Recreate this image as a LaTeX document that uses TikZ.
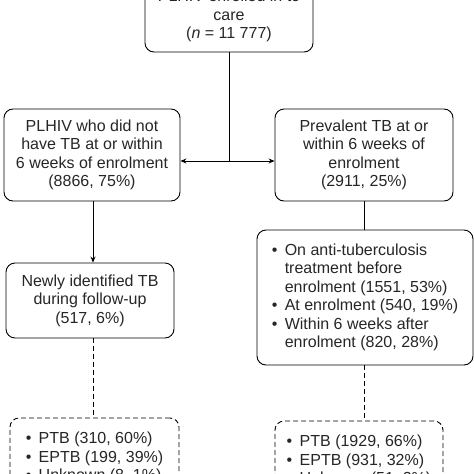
\documentclass[tikz,border=0pt]{standalone}
\usepackage{fontspec}
\setmainfont{Liberation Sans}
\usetikzlibrary{arrows.meta}
\tikzset{
  box/.style={draw=black, line width=0.9pt, rounded corners=9pt, inner sep=0pt,
    font=\fontsize{16}{18.5}\selectfont, text=black!85},
  dbox/.style={box, dash pattern=on 5pt off 3pt},
  conn/.style={draw=black, line width=0.9pt},
  arr/.style={conn, -{Stealth[length=6pt,width=5pt]}},
  dconn/.style={conn, dash pattern=on 5pt off 3pt},
}
\newcommand{\bul}{\makebox[13pt][l]{\textbullet}}
\newcommand{\nobul}{\hspace*{13pt}}
\begin{document}
\begin{tikzpicture}[x=1pt,y=-1pt]
\useasboundingbox (0,0) rectangle (474,474);
\clip (0,0) rectangle (474,474);
\node[box, minimum width=168pt, minimum height=72pt, align=center] (top) at (229,16)
  {PLHIV enrolled in to\\care\\(\textit{n} = 11 777)};
\node[box, minimum width=176pt, minimum height=92pt, align=center] (lb1) at (92,155)
  {PLHIV who did not\\have TB at or within\\6 weeks of enrolment\\(8866, 75\%)};
\node[box, minimum width=178pt, minimum height=92pt, align=center] (rb1) at (364,155)
  {Prevalent TB at or\\within 6 weeks of\\enrolment\\(2911, 25\%)};
\node[box, minimum width=168pt, minimum height=75pt, align=center] (lb2) at (90,300.5)
  {Newly identified TB\\during follow-up\\(517, 6\%)};
\node[box, minimum width=216pt, minimum height=135pt, align=left] (rb2) at (365,297.5)
  {\bul On anti-tuberculosis\\\nobul treatment before\\\nobul enrolment (1551, 53\%)\\\bul At enrolment (540, 19\%)\\\bul Within 6 weeks after\\\nobul enrolment (820, 28\%)};
\node[dbox, minimum width=169pt, minimum height=80pt, align=left] (lb3) at (94.5,458)
  {\bul PTB (310, 60\%)\\\bul EPTB (199, 39\%)\\\bul Unknown (8, 1\%)};
\node[dbox, minimum width=168pt, minimum height=80pt, align=left] (rb3) at (359,461)
  {\bul PTB (1929, 66\%)\\\bul EPTB (931, 32\%)\\\bul Unknown (51, 2\%)};
\coordinate (split) at (229,161);
\draw[conn] (top.south) -- (split);
\draw[arr] (split) -- (split -| lb1.east);
\draw[arr] (split) -- (split -| rb1.west);
\coordinate (lx) at (93,0);
\draw[arr] (lx |- lb1.south) -- (lx |- lb2.north);
\draw[conn] (rb1.south) -- (rb1.south |- rb2.north);
\draw[dconn] (lx |- lb2.south) -- (lx |- lb3.north);
\draw[dconn] (rb1.south |- rb2.south) -- (rb1.south |- rb3.north);
\end{tikzpicture}
\end{document}
